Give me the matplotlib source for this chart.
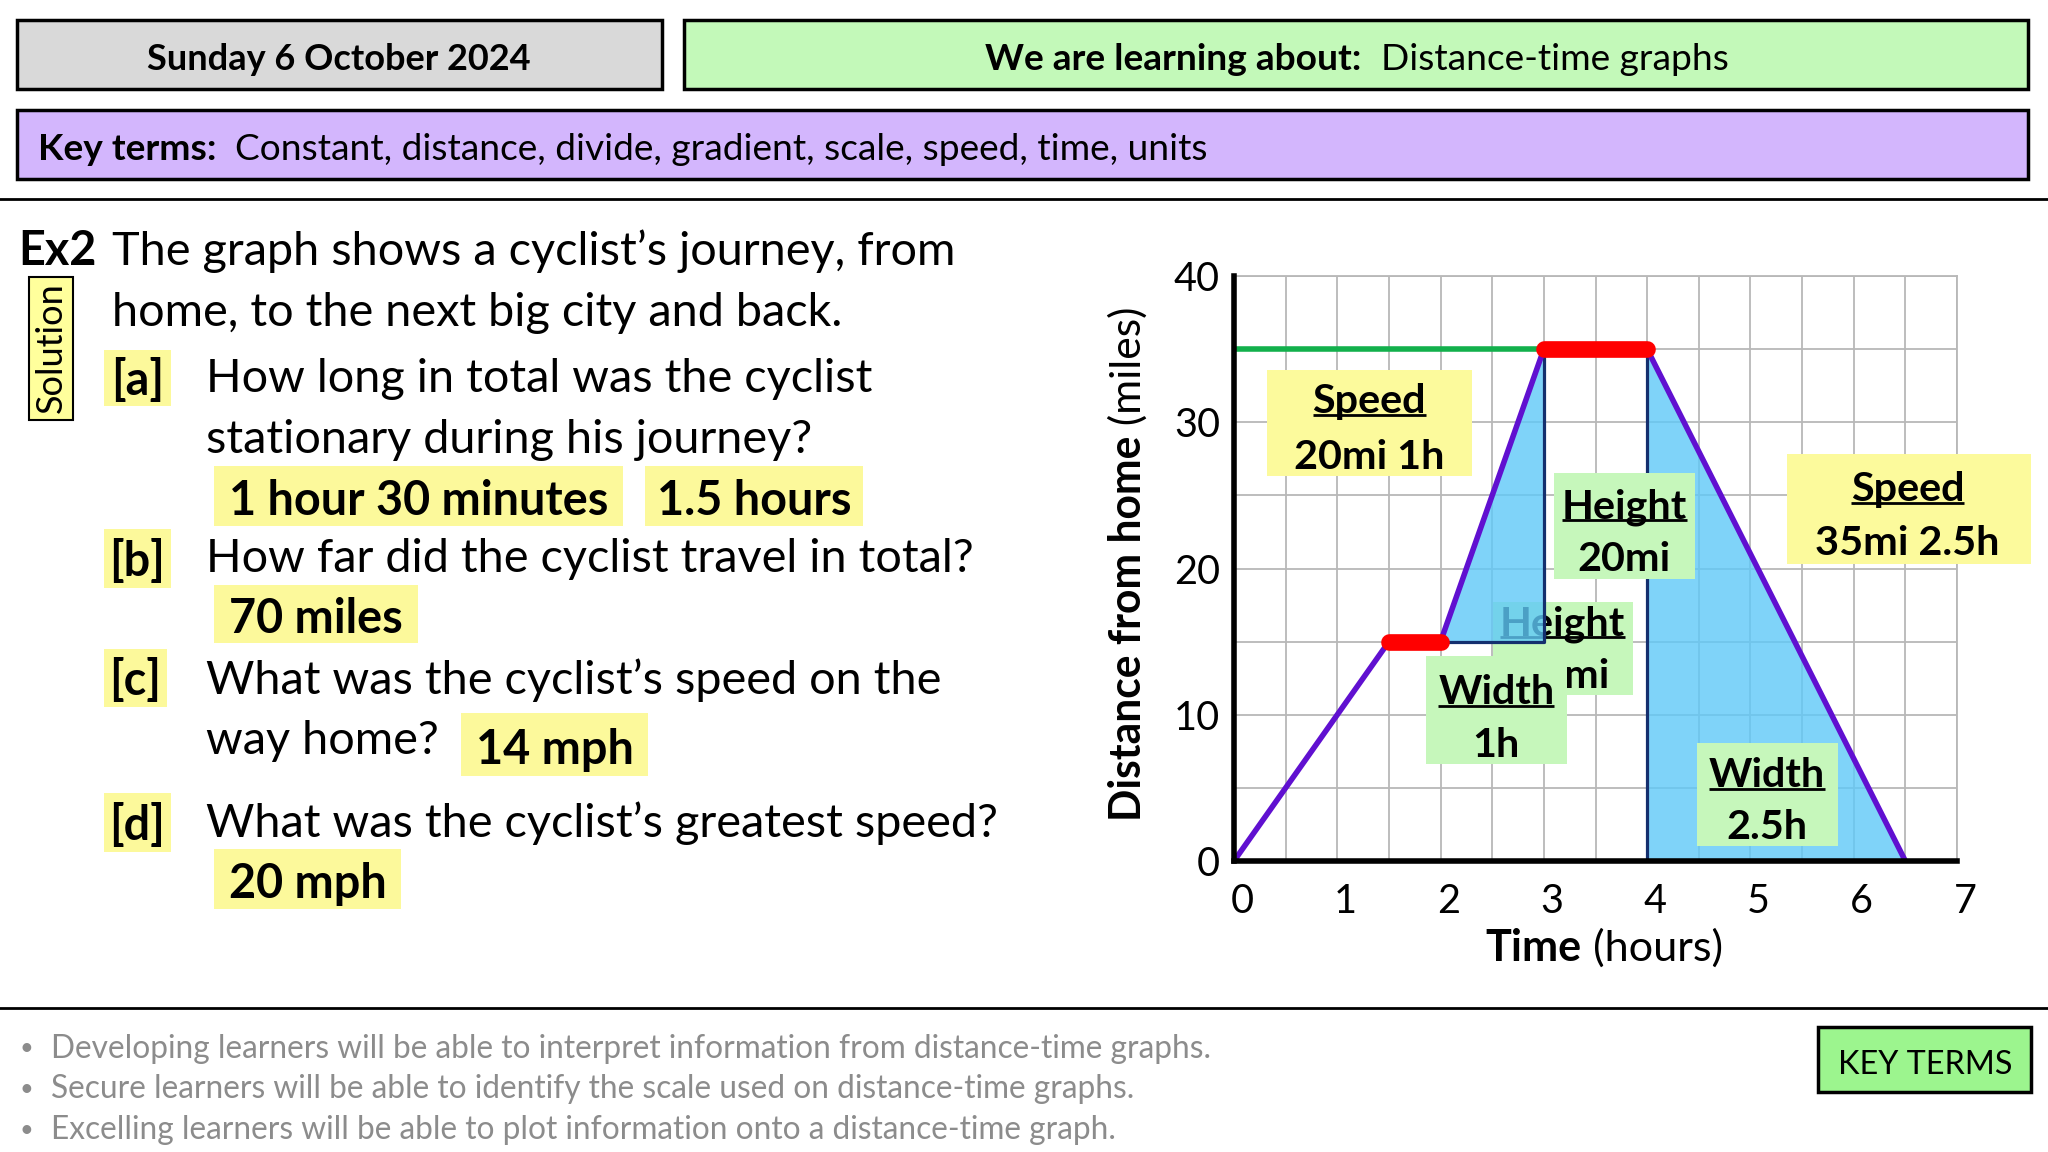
import numpy as np
import matplotlib
matplotlib.use('Agg')
import matplotlib.pyplot as plt
from matplotlib.patches import Rectangle
import matplotlib.transforms as mtransforms

FONT = ['Lato', 'DejaVu Sans']
plt.rcParams['font.family'] = FONT

# ---------------- data ----------------
times = [0, 1.5, 2, 3, 4, 6.5]          # hours
distances = [0, 15, 15, 35, 35, 0]      # miles
x_ticks = [0, 1, 2, 3, 4, 5, 6, 7]
y_ticks = [0, 10, 20, 30, 40]
x_tick_labels = [str(v) for v in x_ticks]
y_tick_labels = [str(v) for v in y_ticks]

date_text = "Sunday 6 October 2024"
learning_label = "We are learning about:"
learning_text = "Distance-time graphs"
key_label = "Key terms:"
key_text = "Constant, distance, divide, gradient, scale, speed, time, units"
question_lines = ["The graph shows a cyclist\u2019s journey, from",
                  "home, to the next big city and back."]
qa_text = "How long in total was the cyclist"
qa_text2 = "stationary during his journey?"
qb_text = "How far did the cyclist travel in total?"
qc_text = "What was the cyclist\u2019s speed on the"
qc_text2 = "way home?"
qd_text = "What was the cyclist\u2019s greatest speed?"
answers_a = ["1 hour 30 minutes", "1.5 hours"]
answer_b = "70 miles"
answer_c = "14 mph"
answer_d = "20 mph"
bullets = ["Developing learners will be able to interpret information from distance-time graphs.",
           "Secure learners will be able to identify the scale used on distance-time graphs.",
           "Excelling learners will be able to plot information onto a distance-time graph."]

W, H = 2048, 1152
DY = 3  # small vertical nudge for text centring
fig = plt.figure(figsize=(20.48, 11.52), dpi=100)
renderer = fig.canvas.get_renderer()
bg = fig.add_axes([0, 0, 1, 1])
bg.set_xlim(0, W)
bg.set_ylim(H, 0)
bg.axis('off')


def measure(s, size, weight='normal'):
    t = bg.text(0, 0, s, fontsize=size, fontweight=weight)
    w = t.get_window_extent(renderer).width
    t.remove()
    return w


def fit(s, target, weight='normal'):
    return 20 * target / measure(s, 20, weight)


def txt(x, y, s, size, weight='normal', ha='left', **kw):
    return bg.text(x, y + DY, s, fontsize=size, fontweight=weight, ha=ha, va='center', **kw)


def runs(x, y, parts, size, ha='left', rot=0, color='black'):
    widths = [measure(s, size, w) for s, w in parts]
    total = sum(widths)
    if rot == 0:
        cx = x if ha == 'left' else x - total / 2
        for (s, w), wd in zip(parts, widths):
            txt(cx, y, s, size, w, color=color)
            cx += wd
    else:
        cy = y + total / 2
        for (s, w), wd in zip(parts, widths):
            bg.text(x, cy - wd / 2, s, fontsize=size, fontweight=w, rotation=90,
                    ha='center', va='center', color=color)
            cy -= wd


def box(x0, y0, x1, y1, fc, ec='none', lw=0, z=1):
    bg.add_patch(Rectangle((x0, y0), x1 - x0, y1 - y0, fc=fc, ec=ec, lw=lw, zorder=z))


# ---------------- sizes ----------------
body = fit(question_lines[0], 844)
hdr = fit(date_text, 383, 'bold')
hdr2 = hdr * 1.03
bul = fit(bullets[0], 1161)
tick = fit("40", 46)
ann = fit("35mi 2.5h", 184, 'bold')
sol = fit("Solution", 131)
kt = fit("KEY TERMS", 174)

# ---------------- header ----------------
box(17, 20, 662, 89, '#d9d9d9', 'black', 2.5)
box(684, 20, 2028, 89, '#c3f9b9', 'black', 2.5)
box(17, 110, 2028, 179, '#d3b6fd', 'black', 2.5)
txt(339, 57, date_text, hdr, 'bold', ha='center')
runs(1357, 57, [(learning_label, 'bold'), ("  " + learning_text, 'normal')], hdr2, ha='center')
runs(38, 146, [(key_label, 'bold'), ("  " + key_text, 'normal')], hdr2, ha='left')
bg.plot([0, W], [199, 199], color='black', lw=2)
bg.plot([0, W], [1008, 1008], color='black', lw=2)

# ---------------- left question text ----------------
txt(18, 248, "Ex2", body, 'bold')
txt(112, 248, question_lines[0], body)
txt(112, 310, question_lines[1], body)

box(29, 277, 73, 420, '#ffff9c', 'black', 1.5)
bg.text(51, 348, "Solution", fontsize=sol, rotation=90, ha='center', va='center')

yel = '#fcf99b'
for (x0, y0, x1, y1, lab) in [(104, 350, 171, 406, "[a]"), (104, 529, 171, 588, "[b]"),
                               (104, 649, 167, 707, "[c]"), (104, 793, 171, 852, "[d]")]:
    box(x0, y0, x1, y1, yel)
    txt((x0 + x1) / 2, (y0 + y1) / 2, lab, body, 'bold', ha='center')

txt(206, 376, qa_text, body)
txt(206, 437, qa_text2, body)
txt(206, 556, qb_text, body)
txt(206, 677, qc_text, body)
txt(206, 738, qc_text2, body)
txt(206, 820, qd_text, body)

for (x0, y0, x1, y1, lab) in [(214, 466, 623, 526, answers_a[0]), (645, 466, 863, 526, answers_a[1]),
                               (214, 585, 418, 643, answer_b), (461, 713, 648, 776, answer_c),
                               (214, 849, 401, 909, answer_d)]:
    box(x0, y0, x1, y1, yel)
    txt((x0 + x1) / 2, (y0 + y1) / 2 + 2, lab, body, 'bold', ha='center')

# ---------------- bottom ----------------
for i, b in enumerate(bullets):
    yy = 1046 + i * 40.5
    txt(20, yy, "\u2022", bul * 0.75, color='#8c8c8c')
    txt(51, yy, b, bul, color='#8c8c8c')
box(1818, 1027, 2031, 1092, '#9cf58e', 'black', 2.5)
txt(1925, 1062, "KEY TERMS", kt, ha='center')

# ---------------- graph ----------------
ax = fig.add_axes([1234 / W, (H - 861) / H, 723 / W, 585 / H])
ax.set_xlim(0, 7)
ax.set_ylim(0, 40)
ax.set_xticks(x_ticks)
ax.set_xticklabels(x_tick_labels)
ax.set_yticks(y_ticks)
ax.set_yticklabels(y_tick_labels)
ax.set_xticks(np.arange(0, 7.01, 0.5), minor=True)
ax.set_yticks(np.arange(0, 40.1, 5), minor=True)
ax.grid(which='both', color='#b8b8b8', lw=1.3, zorder=0)
ax.set_axisbelow(True)
ax.tick_params(which='both', length=0, labelsize=tick)
ax.tick_params(axis='y', pad=10)
ax.tick_params(axis='x', pad=15.5)
for lbl in ax.get_xticklabels():
    lbl.set_transform(lbl.get_transform() + mtransforms.ScaledTranslation(0.08, 0, fig.dpi_scale_trans))
for s in ['top', 'right']:
    ax.spines[s].set_color('#b8b8b8')
    ax.spines[s].set_linewidth(1.3)
for s in ['left', 'bottom']:
    ax.spines[s].set_color('black')
    ax.spines[s].set_linewidth(4)
    ax.spines[s].set_zorder(10)

t = np.array(times, dtype=float)
d = np.array(distances, dtype=float)
ADY = -0.3  # annotation text nudge (data units)

# Height 15mi box (partly under the blue fill)
ax.add_patch(Rectangle((2.51, 11.35), 1.35, 6.35, fc='#c6f7bb', ec='none', zorder=2))
h15 = ax.text(3.18, 16.5 + ADY, "Height", fontsize=ann, fontweight='bold', ha='center', va='center', zorder=2.5)
ax.text(3.18, 12.9 + ADY, "15mi", fontsize=ann, fontweight='bold', ha='center', va='center', zorder=2.5)

# fills for gradient triangles (climb to city, return home)
ax.fill_between(t[2:4], d[2:4], d[2], color='#5fc9f8', alpha=0.8, lw=0, zorder=3)
ax.fill_between(t[4:6], d[4:6], 0, color='#5fc9f8', alpha=0.8, lw=0, zorder=3)
navy = '#142f6e'
ax.plot([t[2], t[3], t[3]], [d[2], d[2], d[3]], color=navy, lw=2.3, zorder=4)
ax.plot([t[4], t[4]], [0, d[4]], color=navy, lw=2.3, zorder=4)

# journey
ax.plot(t, d, color='#6010d0', lw=4, zorder=5, solid_capstyle='round')
ax.plot([0, t[3]], [d[3], d[3]], color='#12b04c', lw=4, zorder=5)
for i in range(len(t) - 1):
    if d[i] == d[i + 1]:
        ax.plot([t[i], t[i + 1]], [d[i], d[i + 1]], color='#ff0000', lw=12,
                solid_capstyle='round', zorder=6)

# annotation boxes
annos = [
    (0.32, 26.3, 2.30, 33.6, '#fcfa9c', 1.31, 31.7, "Speed", 27.9, "20mi 1h"),
    (3.10, 19.3, 4.46, 26.5, '#c6f7bb', 3.78, 24.5, "Height", 20.9, "20mi"),
    (5.35, 20.3, 7.72, 27.8, '#fcfa9c', 6.52, 25.7, "Speed", 22.0, "35mi 2.5h"),
    (1.86, 6.6, 3.22, 14.0, '#c6f7bb', 2.54, 11.8, "Width", 8.2, "1h"),
    (4.48, 1.0, 5.85, 8.1, '#c6f7bb', 5.16, 6.15, "Width", 2.6, "2.5h"),
]
titles = [h15]
for (x0, y0, x1, y1, fc, cx, ty, title, vy, val) in annos:
    ax.add_patch(Rectangle((x0, y0), x1 - x0, y1 - y0, fc=fc, ec='none', zorder=7, clip_on=False))
    tt = ax.text(cx, ty + ADY, title, fontsize=ann, fontweight='bold', ha='center', va='center',
                 zorder=8, clip_on=False)
    ax.text(cx, vy + ADY, val, fontsize=ann, fontweight='bold', ha='center', va='center',
            zorder=8, clip_on=False)
    titles.append(tt)

fig.canvas.draw()
em = ann * 100 / 72
inv = ax.transData.inverted()
for i, tt in enumerate(titles):
    bb = tt.get_window_extent(renderer)
    y_disp = bb.y0 + 0.13 * em
    (dx0, dy), (dx1, _) = inv.transform([(bb.x0, y_disp), (bb.x1, y_disp)])
    ax.plot([dx0, dx1], [dy, dy], color='black', lw=2, zorder=2.6 if i == 0 else 9,
            clip_on=False, solid_capstyle='butt')
ax.set_xlim(0, 7)
ax.set_ylim(0, 40)

# axis labels (figure pixel coordinates)
runs(1604, 945, [("Time", 'bold'), (" (hours)", 'normal')], tick * 1.09, ha='center')
runs(1128, 564, [("Distance from home", 'bold'), (" (miles)", 'normal')], tick * 1.077, rot=90)

fig.savefig('out.png', dpi=100)
